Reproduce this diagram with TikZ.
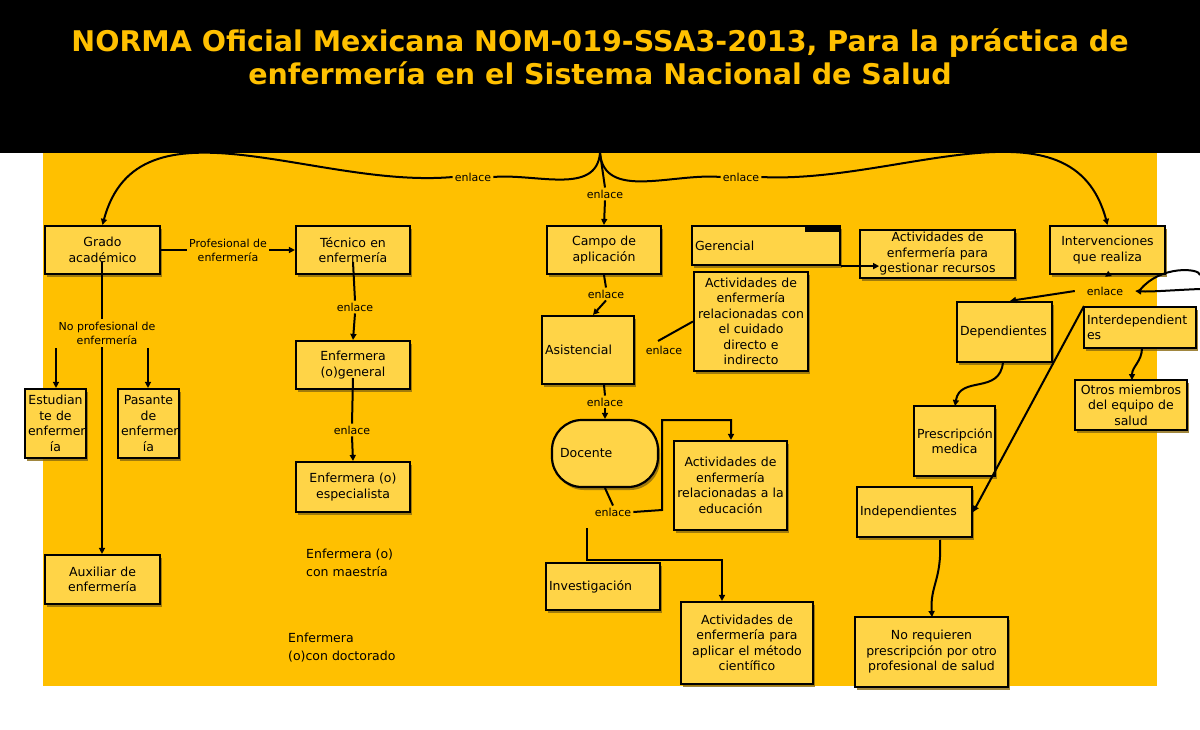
\documentclass[tikz,border=0pt]{standalone}
\usepackage{fontspec}
\setmainfont{DejaVu Sans}
\usetikzlibrary{arrows.meta,shadows}
\definecolor{org}{HTML}{FFC000}
\definecolor{bx}{HTML}{FFD447}
\definecolor{shd}{HTML}{8A6A10}
\newcommand\bx[7][]{\pgfmathsetmacro\bw{#5-#3}\pgfmathsetmacro\bh{#6-#4}\pgfmathsetmacro\tw{#5-#3-6}%
  \node[bxs,minimum width=\bw pt,minimum height=\bh pt,text width=\tw pt,#1] (#2) at ({(#3+#5)/2},{(#4+#6)/2}) {#7};}
\begin{document}
\begin{tikzpicture}[x=1pt,y=-1pt,
  bxs/.style={draw=black,line width=2.2pt,fill=bx,drop shadow={shadow xshift=2pt,shadow yshift=-3pt,fill=shd,opacity=.8},align=center,font=\fontsize{12.5}{15.5}\selectfont,inner sep=0pt},
  lbl/.style={font=\fontsize{11}{14}\selectfont,align=center,inner sep=2pt},
  ln/.style={line width=2pt},
  ar/.style={line width=2pt,-{Triangle[length=6pt,width=6pt]}}]
\useasboundingbox (0,0) rectangle (1200,729);
\fill[white] (0,0) rectangle (1200,729);
\fill[black] (0,0) rectangle (1200,153);
\fill[org] (43,153) rectangle (1157,686);
\node[text=org,font=\bfseries\fontsize{28.5}{33}\selectfont,align=center] (title) at (600,57) {NORMA Oficial Mexicana NOM-019-SSA3-2013, Para la práctica de\\enfermería en el Sistema Nacional de Salud};
\coordinate (top) at (600,153);
% boxes
\bx{grado}{45}{226}{160}{274}{Grado\\académico}
\bx{tec}{296}{226}{410}{274}{Técnico en\\enfermería}
\bx{gen}{296}{341}{410}{389}{Enfermera\\(o)general}
\bx{esp}{296}{462}{410}{512}{Enfermera (o)\\especialista}
\bx{est}{25}{389}{86}{458}{Estudian\\te de\\enfermer\\ía}
\bx{pas}{118}{389}{179}{458}{Pasante\\de\\enfermer\\ía}
\bx{aux}{45}{555}{160}{604}{Auxiliar de\\enfermería}
\bx{campo}{547}{226}{661}{274}{Campo de\\aplicación}
\bx[align=left]{ger}{692}{226}{840}{265}{Gerencial}
\fill (805,225) rectangle (841,232);
\bx{gest}{860}{230}{1015}{278}{Actividades de\\enfermería para\\gestionar recursos}
\bx{interv}{1050}{226}{1165}{274}{Intervenciones\\que realiza}
\bx[align=left]{asis}{542}{316}{634}{384}{Asistencial}
\bx{cuid}{694}{272}{808}{371}{Actividades de\\enfermería\\relacionadas con\\el cuidado\\directo e\\indirecto}
\bx[rounded corners=30pt,align=left,text width=90pt]{doc}{552}{420}{658}{487}{Docente}
\bx{educ}{674}{441}{787}{530}{Actividades de\\enfermería\\relacionadas a la\\educación}
\bx[align=left]{inv}{546}{563}{660}{610}{Investigación}
\bx{met}{681}{602}{813}{684}{Actividades de\\enfermería para\\aplicar el método\\científico}
\bx[align=left]{dep}{957}{302}{1052}{362}{Dependientes}
\bx[align=left]{inter}{1084}{307}{1196}{348}{Interdependient\\es}
\bx{otros}{1075}{380}{1187}{430}{Otros miembros\\del equipo de\\salud}
\bx{pres}{914}{406}{995}{476}{Prescripción\\medica}
\bx[align=left]{indep}{857}{487}{972}{537}{Independientes}
\bx{noreq}{855}{617}{1008}{687}{No requieren\\prescripción por otro\\profesional de salud}
% free texts
\node[font=\fontsize{12.5}{17.5}\selectfont,align=left,anchor=north west,inner sep=0pt] (mae) at (306,549) {Enfermera (o)\\con maestría};
\node[font=\fontsize{12.5}{17.5}\selectfont,align=left,anchor=north west,inner sep=0pt] (doct) at (288,633) {Enfermera\\(o)con doctorado};
% labels
\node[lbl] (e1) at (473,177) {enlace};
\node[lbl] (e2) at (741,177) {enlace};
\node[lbl] (e3) at (605,194) {enlace};
\node[lbl] (prof) at (228,250) {Profesional de\\enfermería};
\node[lbl] (np) at (107,333) {No profesional de\\enfermería};
\node[lbl] (e4) at (355,307) {enlace};
\node[lbl] (e5) at (352,430) {enlace};
\node[lbl] (e6) at (606,294) {enlace};
\node[lbl] (e7) at (605,402) {enlace};
\node[lbl,fill=org,minimum width=54pt,minimum height=30pt] (e8) at (664,350) {enlace};
\node[lbl] (e9) at (613,512) {enlace};
\node[lbl,fill=org,minimum width=60pt,minimum height=28pt] (e10) at (1105,291) {enlace};
% connectors
\draw[ln] (top) to[out=-95,in=5] (e1.east);
\draw[ar] (e1.west) to[out=185,in=75] (grado.north);
\draw[ln] (top) to[out=-85,in=175] (e2.west);
\draw[ar] (e2.east) to[out=-3,in=105] (interv.north);
\draw[ln] (top) -- (e3.north);
\draw[ar] (e3.south) -- (campo.north);
\draw[ln] (grado.east) -- (prof.west|-grado.east);
\draw[ar] (prof.east|-tec.west) -- (tec.west);
\draw[ln] (102,262) -- (102,319);
\draw[ar] (102,347) -- (aux.north-|102,0);
\draw[ar] (56,348) -- (est.north-|56,0);
\draw[ar] (148,348) -- (pas.north-|148,0);
\draw[ln] (353,262) -- (e4.north);
\draw[ar] (e4.south) -- (gen.north);
\draw[ln] (353,378) -- (e5.north);
\draw[ar] (e5.south) -- (esp.north);
\draw[ln] (campo.south) -- (e6.north);
\draw[ar] (e6.south) -- (asis.north-|593,0);
\draw[ln] (asis.south-|604,0) -- (e7.north);
\draw[ar] (e7.south) -- (doc.north);
\draw[ln] (658,341) -- (cuid.west);
\draw[ar] (ger.south east) -- ++(38,0);
\draw[ln] (doc.south) -- (e9.north);
\draw[ar] (e9.east) -- (662,510) -- (662,420) -- (731,420) -- (educ.north-|731,0);
\draw[ar] (587,528) -- (587,560) -- (722,560) -- (met.north-|722,0);
\draw[ar] (interv.south) -- (e10.north);
\draw[ar] (e10.west) -- (dep.north-|1010,0);
\draw[ar] (1084,306) -- (indep.east);
\draw[ar] (1200,289) .. controls (1175,290) and (1150,292) .. (e10.east);
\draw[ln] (1140,290) .. controls (1160,265) and (1200,268) .. (1200,275);
\draw[ar] (1142,348) to[out=-90,in=90] (1132,380);
\draw[ar] (1003,362) .. controls (1000,395) and (960,375) .. (955,406);
\draw[ar] (940,540) .. controls (942,580) and (930,585) .. (932,617);
\end{tikzpicture}
\end{document}
